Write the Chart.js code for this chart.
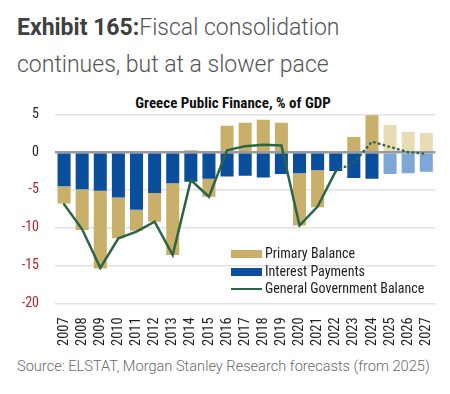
<!DOCTYPE html>
<html><head><meta charset="utf-8">
<script src="https://cdn.jsdelivr.net/npm/chart.js@4"></script>
<style>
html,body{margin:0;padding:0;background:#fff;width:450px;height:394px;overflow:hidden;}
#h{position:absolute;left:17px;top:9px;font-family:Roboto,sans-serif;font-size:23px;line-height:37px;color:#555;font-weight:300;}
#h b{font-weight:700;color:#404040;}
#ct{position:absolute;left:0;width:466px;top:94px;text-align:center;font-family:"Roboto Condensed","Liberation Sans Narrow",Roboto,sans-serif;font-weight:700;font-size:15px;color:#111;}
#wrap{position:absolute;left:0;top:90px;width:450px;height:262px;}
#lg{position:absolute;left:231px;top:245px;font-family:"Roboto Condensed","Liberation Sans Narrow",Roboto,sans-serif;font-size:14px;color:#222;}
#lg div{height:17.5px;line-height:17.5px;white-space:nowrap;}
#lg span{display:inline-block;width:31px;margin-right:3px;vertical-align:middle;}
#src{position:absolute;left:17px;top:357px;font-family:Roboto,sans-serif;font-weight:300;font-size:14.6px;color:#6a6a6a;}
</style></head><body>
<div id="h"><b>Exhibit 165:</b>Fiscal consolidation<br>continues, but at a slower pace</div>
<div id="ct">Greece Public Finance, % of GDP</div>
<div id="wrap"><canvas id="c"></canvas></div>
<div id="lg">
<div><span style="height:8px;background:#c8b06a"></span>Primary Balance</div>
<div><span style="height:8px;background:#0b4f9c"></span>Interest Payments</div>
<div><span style="height:2px;background:#2a6645"></span>General Government Balance</div>
</div>
<div id="src">Source: ELSTAT, Morgan Stanley Research forecasts (from 2025)</div>
<script>
const years = ["2007","2008","2009","2010","2011","2012","2013","2014","2015","2016","2017","2018","2019","2020","2021","2022","2023","2024","2025","2026","2027"];
const interestPayments = [-4.5,-4.9,-5.1,-6.0,-7.6,-5.4,-4.1,-3.9,-3.5,-3.2,-3.1,-3.35,-2.9,-2.8,-2.4,-2.5,-3.4,-3.5,-2.9,-2.8,-2.6];
const primaryBalance = [-2.3,-5.4,-10.3,-5.4,-2.8,-3.8,-9.5,0.25,-2.4,3.5,3.9,4.3,3.9,-6.9,-4.9,0.1,2.0,4.9,3.6,2.7,2.55];
const govBalance = [-6.9,-10.2,-15.3,-11.4,-10.5,-9.2,-13.6,-3.7,-5.9,0.25,0.8,1.0,0.9,-9.7,-7.2,-2.5,-1.4,1.4,0.7,0.0,-0.2];
const yTicks = [5,0,-5,-10,-15,-20];
const firstForecast = "2025";
const dottedFrom = "2022";

const fc = years.map(y => y >= firstForecast);
const cond = '"Roboto Condensed","Liberation Sans Narrow",Roboto,sans-serif';
new Chart(document.getElementById('c'), {
  data: {
    labels: years,
    datasets: [
      {type:'line', label:'General Government Balance', data:govBalance, borderColor:'#2a6645', borderWidth:2.5, pointRadius:0, tension:0, order:0, borderCapStyle:'round',
        segment:{borderDash: ctx => years[ctx.p0DataIndex] >= dottedFrom ? [0.5,4.5] : undefined}},
      {type:'bar', label:'Interest Payments', data:interestPayments, backgroundColor: fc.map(f => f ? '#7ea6d6' : '#0b4f9c'), stack:'s', order:1, categoryPercentage:1, barPercentage:0.72},
      {type:'bar', label:'Primary Balance', data:primaryBalance, backgroundColor: fc.map(f => f ? '#e8dcb4' : '#c8b06a'), stack:'s', order:2, categoryPercentage:1, barPercentage:0.72}
    ]
  },
  options: {
    responsive:true, maintainAspectRatio:false, animation:false,
    layout:{padding:{top:8,right:13,left:0,bottom:0}},
    plugins:{legend:{display:false}, title:{display:false}, tooltip:{enabled:false}},
    scales:{
      x:{stacked:true, grid:{display:false}, border:{display:false},
         ticks:{autoSkip:false, minRotation:90, maxRotation:90, color:'#222', font:{family:cond, size:14.5}, padding:6}},
      y:{stacked:true, min:-20, max:5, border:{display:false},
         afterBuildTicks: ax => { ax.ticks = yTicks.map(v => ({value:v})); },
         afterFit: ax => { ax.width = 55; },
         grid:{color: c => c.tick && c.tick.value === 0 ? '#9a9a9a' : '#e2e2e2', lineWidth: c => c.tick && c.tick.value === 0 ? 2.5 : 1.5, drawTicks:false},
         ticks:{padding:16, color: c => c.tick.value < 0 ? '#c0202a' : '#222', font:{family:cond, size:14}}}
    }
  }
});
</script>
</body></html>
